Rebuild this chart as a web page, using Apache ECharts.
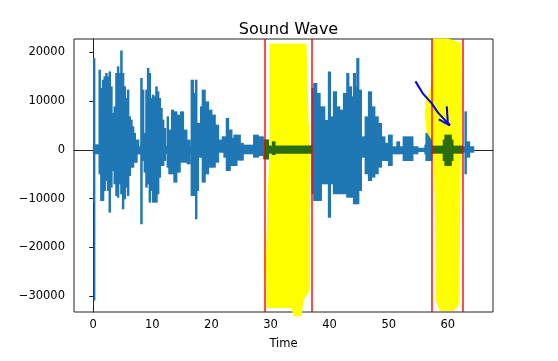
<!DOCTYPE html>
<html>
<head>
<meta charset="utf-8">
<script src="https://cdn.jsdelivr.net/npm/echarts@6/dist/echarts.min.js"></script>
<style>html,body{margin:0;padding:0;background:#fff}#c{width:558px;height:361px}</style>
</head>
<body>
<div id="c"></div>
<script>
// ---- data ----
const titleText = 'Sound Wave';
const xName = 'Time';
const xTicks = [0, 10, 20, 30, 40, 50, 60];
const yTicks = [-30000, -20000, -10000, 0, 10000, 20000];

// waveform envelope: segment start times, upper and lower amplitude
const waveT = [0.00,0.06,0.15,0.30,0.96,1.24,1.53,1.81,2.09,2.37,2.66,2.94,3.22,3.50,3.79,4.07,4.35,4.63,4.92,5.20,5.48,5.76,6.05,6.33,6.61,6.89,7.17,7.46,7.74,8.02,8.31,8.59,8.87,9.15,9.44,9.72,10.00,10.28,10.56,10.85,11.13,11.41,11.70,11.98,12.30,12.49,12.77,13.22,13.62,14.18,14.75,15.31,15.88,16.44,16.55,17.01,17.29,17.57,17.85,18.14,18.42,18.98,19.55,20.11,20.68,21.24,21.81,22.09,22.49,22.94,23.22,23.50,23.79,24.35,24.92,25.42,27.12,27.97,28.81,29.66,30.30,30.79,37.00,37.29,37.85,38.42,38.64,39.21,39.77,40.17,40.62,41.19,41.75,42.32,42.88,43.28,43.73,44.01,44.41,44.58,44.97,45.42,45.99,46.55,47.12,47.68,48.25,48.81,49.38,49.94,50.62,51.36,51.86,52.43,54.12,54.97,56.10,56.27,57.34,59.20,59.49,60.62,60.90,62.49,62.88,63.16,63.73];
const waveHi = [600,18700,18700,1000,16300,12560,14260,14940,15630,14940,15960,12890,7440,8790,15630,16990,15630,20250,15630,12890,10510,12210,6740,6070,4690,3340,1970,1970,600,14610,12210,3340,12210,16650,15630,10510,11190,10840,12890,11870,10510,8460,6070,4360,700,6740,4020,8110,7770,7090,7770,4020,1970,600,14260,11530,14260,5390,5390,8790,12210,9810,8110,7090,5040,1970,2640,2640,6410,4020,4020,2320,2990,2990,1290,940,2990,2640,1970,740,1620,740,12560,13580,11530,8790,8790,6000,15960,6740,11870,8790,8110,11530,15630,12890,10840,15630,12890,18700,12210,2640,6740,11870,8790,6740,5390,2640,1300,2990,600,1620,600,2640,600,300,940,3340,740,1970,2990,1970,740,600,7770,1620,600];
const waveLo = [-760,-10670,-30750,-760,-4860,-10330,-10330,-8280,-6230,-8280,-12720,-7600,-4180,-6910,-9300,-9650,-6910,-8950,-12030,-9980,-7600,-9300,-5200,-3500,-3500,-2480,-2480,-760,-760,-15100,-2130,-4520,-7600,-6910,-10670,-8280,-10670,-10670,-10670,-8950,-5550,-3160,-3160,-2130,-600,-3500,-4860,-4860,-6570,-4520,-2480,-2480,-2820,-760,-9300,-9300,-14080,-8280,-1450,-1450,-6570,-4860,-3500,-3500,-2480,-430,-430,-1450,-4180,-4180,-3160,-3160,-3160,-2050,-2050,-760,-1450,-1110,-1790,-630,-900,-630,-8950,-10330,-10330,-10330,-6910,-6910,-13750,-6910,-8950,-8950,-8950,-8950,-9650,-9650,-9650,-11000,-11000,-11000,-8280,-1450,-4860,-6230,-5550,-4860,-3500,-2130,-2130,-3160,-760,-760,-760,-2130,-760,-300,-760,-2130,-630,-2130,-3160,-2130,-630,-430,-4860,-1450,-430];
const waveEnd = 64.41;

// highlighted (green) parts of the waveform
const green1T = [29.00, 29.66, 30.30, 30.79];
const green1Hi = [1970, 740, 1620, 740];
const green1Lo = [-1790, -630, -900, -630];
const green1End = 37.00;
const green2T = [57.34, 59.20, 59.49, 60.62, 60.90];
const green2Hi = [740, 1970, 2990, 1970, 740];
const green2Lo = [-630, -2130, -3160, -2130, -630];
const green2End = 62.49;

// red vertical marker lines
const redLines = [29.0, 37.0, 57.34, 62.55];

// hand-painted yellow regions (outline, data coords)
const yellowA = [[29.83,21840],[36.10,21840],[36.44,6070],[36.78,-80],[36.69,-12380],[36.69,-28770],[35.59,-30820],[35.25,-34100],[33.90,-34100],[33.56,-32450],[29.32,-32450],[29.24,-22620],[29.49,-10330],[29.83,-80]];
const yellowB = [[57.46,22870],[60.00,22870],[62.20,22050],[62.37,10160],[62.20,-2130],[62.03,-20570],[61.86,-31840],[61.02,-33070],[58.64,-33070],[57.97,-30820],[57.80,-10330],[57.63,-2130],[57.29,1970],[56.44,3610],[56.10,7090],[56.27,10570],[56.95,11600],[57.29,14260]];

// hand-drawn blue arrow
const arrowShaft = [[54.53,14060],[55.76,11600],[57.29,9550],[58.31,7700],[60.34,5040]];
const arrowBarbA = [[58.47,6270],[60.34,5040]];
const arrowBarbB = [[59.83,8930],[60.00,5650],[60.34,5040]];

// ---- build ----
function segs(T, Hi, Lo, end) {
  return T.map((t, i) => [t, i + 1 < T.length ? T[i + 1] : end, Lo[i], Hi[i]]);
}
function envSeries(data, color, z) {
  return {
    type: 'custom', z: z, silent: true,
    encode: { x: [0, 1], y: [2, 3] },
    data: data,
    renderItem: function (params, api) {
      const p0 = api.coord([api.value(0), api.value(3)]);
      const p1 = api.coord([api.value(1), api.value(2)]);
      return { type: 'rect', shape: { x: p0[0] - 0.4, y: p0[1] - 0.7, width: p1[0] - p0[0] + 0.8, height: p1[1] - p0[1] + 1.4 }, style: { fill: color } };
    }
  };
}
const polys = [yellowA, yellowB];
const FONT = 'DejaVu Sans';
const minus = v => String(v).replace('-', '\u2212');

const chart = echarts.init(document.getElementById('c'), null, { renderer: 'canvas' });
chart.setOption({
  animation: false,
  backgroundColor: '#fff',
  title: {
    text: titleText, left: 283.5, top: 17, textAlign: 'center',
    textStyle: { fontFamily: FONT, fontSize: 16, fontWeight: 'normal', color: '#000' }
  },
  grid: { left: 74, right: 65, top: 39, bottom: 49, show: true, borderColor: '#222', borderWidth: 1, backgroundColor: 'transparent' },
  xAxis: {
    type: 'value', min: -3.25, max: 67.65,
    name: xName, nameLocation: 'middle', nameGap: 26,
    nameTextStyle: { fontFamily: FONT, fontSize: 11.5, color: '#000' },
    axisLine: { show: true, lineStyle: { color: '#222', width: 1 } },
    axisTick: { show: true, length: 4, customValues: xTicks, lineStyle: { color: '#222' } },
    axisLabel: { customValues: xTicks, margin: 7, fontFamily: FONT, fontSize: 11.5, color: '#000', formatter: minus },
    splitLine: { show: false }
  },
  yAxis: {
    type: 'value', min: -33250, max: 22750,
    axisLine: { show: true, lineStyle: { color: '#222', width: 1 } },
    axisTick: { show: true, length: 4, customValues: yTicks, lineStyle: { color: '#222' } },
    axisLabel: { customValues: yTicks, margin: 9, fontFamily: FONT, fontSize: 11.5, color: '#000', formatter: minus },
    splitLine: { show: false }
  },
  series: [
    envSeries(segs(waveT, waveHi, waveLo, waveEnd), '#1f77b4', 1),
    {
      type: 'custom', z: 2, silent: true, clip: false,
      data: polys.map((p, i) => [p[0][0], p[0][1], i]),
      renderItem: function (params, api) {
        const pts = polys[params.dataIndex].map(p => api.coord(p));
        return { type: 'polygon', shape: { points: pts }, style: { fill: '#ffff00' } };
      }
    },
    envSeries(segs(green1T, green1Hi, green1Lo, green1End), '#2a6d12', 3),
    envSeries(segs(green2T, green2Hi, green2Lo, green2End), '#2a6d12', 3),
    {
      type: 'line', z: 4, data: [], silent: true,
      markLine: {
        silent: true, symbol: ['none', 'none'], label: { show: false },
        lineStyle: { color: 'rgba(255,0,0,0.7)', width: 2, type: 'solid' },
        data: redLines.map(x => ({ xAxis: x }))
      }
    },
    { type: 'line', z: 5, data: arrowShaft, symbol: 'none', silent: true, lineStyle: { color: '#0000ff', width: 2 } },
    { type: 'line', z: 5, data: arrowBarbA, symbol: 'none', silent: true, lineStyle: { color: '#0000ff', width: 2 } },
    { type: 'line', z: 5, data: arrowBarbB, symbol: 'none', silent: true, lineStyle: { color: '#0000ff', width: 2 } }
  ]
});
</script>
</body>
</html>
